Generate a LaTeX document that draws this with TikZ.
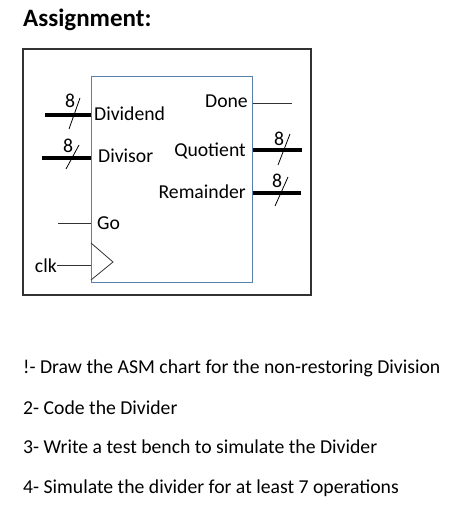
\documentclass[tikz,border=0pt]{standalone}
\usepackage{fontspec}
\setmainfont{Carlito}
\usetikzlibrary{positioning}
\definecolor{boxblue}{RGB}{88,128,172}
\definecolor{framegray}{RGB}{50,50,50}
\tikzset{
  lbl/.style={inner sep=0pt, font=\fontsize{19.7}{23}\selectfont},
  bus/.style={line width=4pt},
  sig/.style={line width=0.8pt, draw=black!80},
  tick/.style={line width=0.8pt}
}
\begin{document}
\begin{tikzpicture}[x=1pt, y=-1pt, line join=miter]
	\useasboundingbox (0,0) rectangle (474,524);
	
	% ---------- title ----------
	\node[lbl, anchor=base west, font=\fontsize{25}{30}\selectfont\bfseries]
	(title) at (23,27) {Assignment:};
	
	% ---------- outer frame ----------
	\draw[line width=1.4pt, framegray] (23,49) rectangle (311,295);
	
	% ---------- divider block ----------
	\node[draw=boxblue, line width=1pt, minimum width=161pt, minimum height=205pt,
	inner sep=0pt] (div) at (171.5,179.5) {};
	
	% inputs
	\node[lbl, anchor=base west] (dvd) at (94,121) {Dividend};
	\node[lbl, anchor=base west] (dvs) at (98,162) {Divisor};
	\node[lbl, anchor=base west] (go) at (97,229) {Go};
	\coordinate (dvdin) at (45,115);
	\coordinate (dvsin) at (42,158);
	\coordinate (goin) at (58,223);
	\draw[bus] (dvdin) -- (dvdin -| div.west);
	\draw[bus] (dvsin) -- (dvsin -| div.west);
	\draw[sig] (goin) -- (goin -| div.west);
	
	% bus widths (inputs)
	\draw[tick] (69,129) -- (80,98);
	\node[lbl, anchor=base] (w1) at (70,108) {8};
	\draw[tick] (66,169) -- (79,145);
	\node[lbl, anchor=base] (w2) at (68,152) {8};
	
	% clock
	\draw[sig] (91,243) -- (113,262) -- (91,280);
	\node[lbl, anchor=base east] (clk) at (57,272) {clk};
	\draw[sig] (clk.east |- 0,265) -- (91,265);
	
	% outputs
	\node[lbl, anchor=base east] (done) at (248,108) {Done};
	\node[lbl, anchor=base east] (quo) at (246,156) {Quotient};
	\node[lbl, anchor=base east] (rem) at (246,198) {Remainder};
	\coordinate (doneout) at (292,103);
	\coordinate (quoout) at (302,150);
	\coordinate (remout) at (301,193);
	\draw[sig] (doneout -| div.east) -- (doneout);
	\draw[bus] (quoout -| div.east) -- (quoout);
	\draw[bus] (remout -| div.east) -- (remout);
	
	% bus widths (outputs)
	\draw[tick] (278,165) -- (290,134);
	\node[lbl, anchor=base] (w3) at (279,145) {8};
	\draw[tick] (275,206) -- (288,177);
	\node[lbl, anchor=base] (w4) at (277,187) {8};
	
	% ---------- tasks ----------
	\node[lbl, anchor=base west] (t1) at (23,373) {!- Draw the ASM chart for the non-restoring Division};
	\node[lbl, anchor=base west] (t2) at (23,414) {2- Code the Divider};
	\node[lbl, anchor=base west] (t3) at (23,453) {3- Write a test bench to simulate the Divider};
	\node[lbl, anchor=base west] (t4) at (23,493) {4- Simulate the divider for at least 7 operations};
	
\end{tikzpicture}
\end{document}
